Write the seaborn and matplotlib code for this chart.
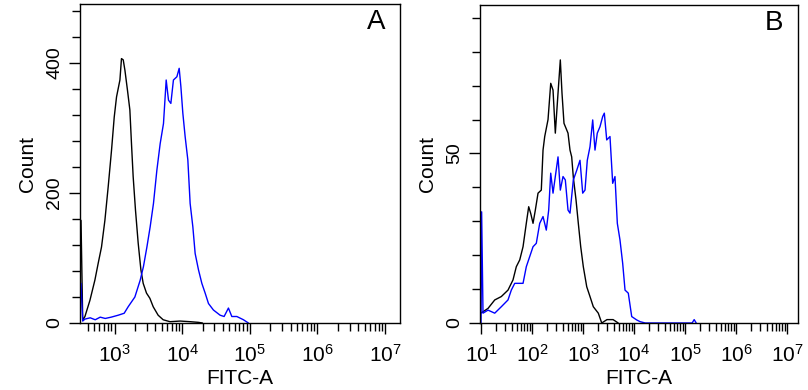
import matplotlib
matplotlib.use("Agg")
import matplotlib.pyplot as plt
import numpy as np
import pandas as pd
import seaborn as sns
from matplotlib.ticker import FixedLocator, LogLocator, LogFormatterMathtext, NullFormatter

# panel A, log10(FITC-A) and counts
A_CTRL_LOG = [2.505, 2.53, 2.563, 2.637, 2.71, 2.759, 2.808, 2.858, 2.907, 2.956, 2.996,
              3.03, 3.08, 3.103, 3.129, 3.154, 3.192, 3.227, 3.251, 3.276, 3.31, 3.35,
              3.39, 3.424, 3.473, 3.523, 3.572, 3.645, 3.719, 3.82, 3.97, 4.12, 4.24, 4.3]
A_CTRL_COUNT = [158, 4, 10, 35, 66, 92, 117, 158, 210, 266, 317,
                348, 374, 407, 405, 389, 358, 328, 276, 225, 174, 123,
                82, 61, 46, 38, 25, 12, 5, 2, 3, 2, 1, 0]
A_STAIN_LOG = [2.505, 2.53, 2.563, 2.641, 2.715, 2.789, 2.863, 2.951, 3.055, 3.143, 3.202,
               3.301, 3.38, 3.428, 3.479, 3.527, 3.576, 3.626, 3.675, 3.724, 3.764, 3.798,
               3.833, 3.871, 3.922, 3.956, 3.981, 4.01, 4.044, 4.084, 4.118, 4.158, 4.192,
               4.241, 4.291, 4.34, 4.389, 4.462, 4.561, 4.62, 4.684, 4.734, 4.808, 4.906, 4.979]
A_STAIN_COUNT = [61, 3, 6, 8, 5, 9, 7, 9, 12, 15, 25,
                 40, 66, 87, 117, 148, 184, 235, 276, 307, 374, 343,
                 338, 374, 379, 392, 364, 323, 287, 251, 184, 148, 107,
                 82, 61, 46, 30, 20, 12, 10, 23, 10, 10, 5, 0]

# panel B
B_CTRL_LOG = [1.006, 1.137, 1.269, 1.398, 1.529, 1.627, 1.692, 1.759, 1.824, 1.888, 1.935,
              1.975, 2.02, 2.065, 2.118, 2.182, 2.216, 2.249, 2.314, 2.367, 2.412, 2.457,
              2.51, 2.555, 2.588, 2.627, 2.706, 2.745, 2.778, 2.81, 2.863, 2.908, 2.955,
              3.006, 3.073, 3.137, 3.202, 3.3, 3.367, 3.47, 3.59, 3.69]
B_CTRL_COUNT = [3, 4.3, 6.8, 7.8, 9.7, 12.7, 16.6, 18.6, 22.5, 29.4, 34.3,
                32.3, 29.4, 33.3, 38.3, 39.2, 51, 55, 60, 70.7, 68.7, 56,
                67.8, 77.6, 67.8, 58.9, 56, 51, 49, 43, 36.3, 29.4, 22.5,
                16.6, 10.7, 7.8, 4.8, 2.9, 0, 1, 1, 0]
B_STAIN_LOG = [1.0, 1.012, 1.039, 1.137, 1.269, 1.398, 1.529, 1.594, 1.661, 1.759, 1.824,
               1.888, 1.955, 2.02, 2.084, 2.151, 2.216, 2.28, 2.327, 2.367, 2.412, 2.457,
               2.51, 2.555, 2.608, 2.653, 2.706, 2.745, 2.81, 2.876, 2.941, 2.994, 3.039,
               3.084, 3.137, 3.19, 3.235, 3.28, 3.333, 3.386, 3.418, 3.465, 3.529, 3.582,
               3.627, 3.673, 3.725, 3.778, 3.824, 3.888, 3.955, 4.053, 4.118, 4.22,
               5.14, 5.18, 5.22]
B_STAIN_COUNT = [0, 32.8, 2.9, 3.8, 2.9, 4.8, 6.8, 9.7, 11.7, 11.7, 11.7,
                 16.6, 19.6, 22.5, 23.5, 29.4, 31.4, 27.4, 33.3, 44.2, 38.3, 43.2,
                 49, 39.2, 43.2, 42.2, 33.3, 32.4, 42.2, 45, 48, 38.3, 39.2,
                 48, 52, 59.9, 51, 56, 57.9, 60.9, 61.9, 54, 55, 41.2,
                 43.2, 29.4, 24.5, 17.6, 9.7, 8.8, 1.9, 0.9, 0.4, 0,
                 0, 1, 0]

PANELS = [
    dict(label="A", ctrl=(A_CTRL_LOG, A_CTRL_COUNT), stain=(A_STAIN_LOG, A_STAIN_COUNT),
         xlim=(10 ** 2.49, 10 ** 7.22), ylim=(0, 491), yticks=[0, 200, 400], ystep=40,
         rect=[80 / 808, 67 / 390, 320 / 808, 319 / 390]),
    dict(label="B", ctrl=(B_CTRL_LOG, B_CTRL_COUNT), stain=(B_STAIN_LOG, B_STAIN_COUNT),
         xlim=(10 ** 0.98, 10 ** 7.216), ylim=(0, 93.8), yticks=[0, 50], ystep=10,
         rect=[480 / 808, 67 / 390, 318 / 808, 318 / 390]),
]


def _frame(log, count, sample):
    return pd.DataFrame({"fitc": 10 ** np.asarray(log, dtype=float), "count": count, "sample": sample})


sns.set_theme(style="ticks")
plt.rcParams["font.family"] = ["Liberation Sans", "DejaVu Sans"]
plt.rcParams["mathtext.fontset"] = "custom"
plt.rcParams["mathtext.rm"] = "Liberation Sans"
plt.rcParams["text.color"] = "black"

fig = plt.figure(figsize=(8.08, 3.9), dpi=100)
for p in PANELS:
    ax = fig.add_axes(p["rect"])
    df = pd.concat([_frame(*p["ctrl"], "control"), _frame(*p["stain"], "stained")])
    sns.lineplot(data=df, x="fitc", y="count", hue="sample", palette={"control": "black", "stained": "#0000ff"},
                 estimator=None, sort=False, linewidth=1.0, legend=False, ax=ax)
    ax.set_xscale("log")
    ax.set_xlim(*p["xlim"])
    ax.set_ylim(*p["ylim"])
    ax.xaxis.set_major_locator(LogLocator(base=10, numticks=20))
    ax.xaxis.set_major_formatter(LogFormatterMathtext())
    ax.xaxis.set_minor_locator(LogLocator(base=10, subs=np.arange(2, 10), numticks=20))
    ax.xaxis.set_minor_formatter(NullFormatter())
    ax.yaxis.set_major_locator(FixedLocator(p["yticks"]))
    ax.yaxis.set_minor_locator(FixedLocator(np.arange(0, p["ylim"][1], p["ystep"])))
    ax.tick_params(axis="both", which="major", length=8, width=1, color="black", labelcolor="black")
    ax.tick_params(axis="both", which="minor", length=5.5, width=1, color="black")
    ax.tick_params(axis="x", which="major", pad=7, labelsize=15)
    ax.tick_params(axis="y", which="major", pad=4, labelsize=14)
    for t in ax.get_yticklabels():
        t.set_rotation(90)
        t.set_va("center")
    for s in ax.spines.values():
        s.set_visible(True)
        s.set_color("black")
        s.set_linewidth(1.0)
    ax.set_xlabel("FITC-A", fontsize=15, labelpad=2, color="black")
    ax.set_ylabel("Count", fontsize=15, labelpad=7, color="black")
    ax.text(0.925, 0.944, p["label"], transform=ax.transAxes, fontsize=20, ha="center", va="center",
            color="black")

fig.savefig("out.png", dpi=100)
